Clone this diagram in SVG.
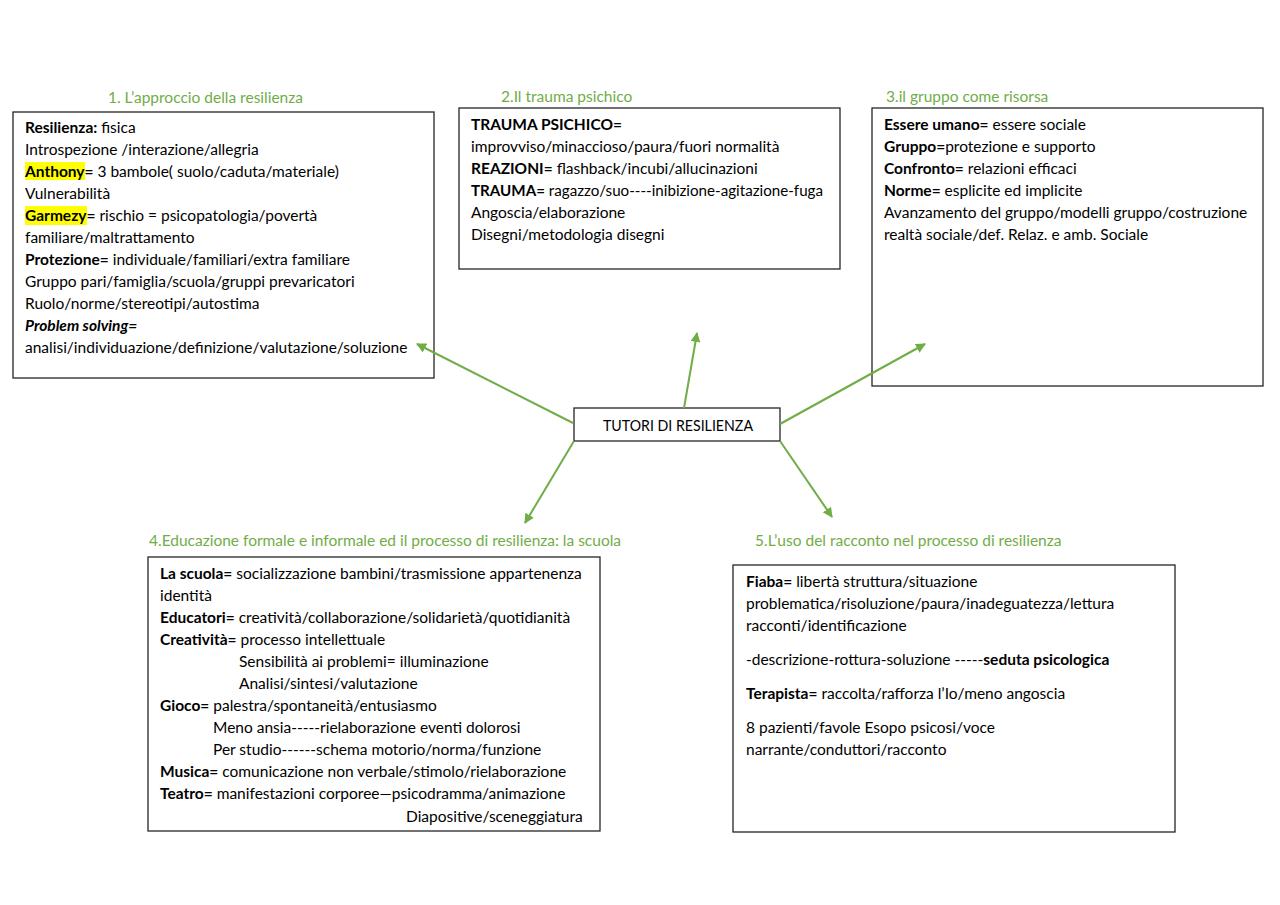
<svg xmlns="http://www.w3.org/2000/svg" width="1280" height="905" viewBox="0 0 1280 905">
<defs>
<marker id="ah" viewBox="0 0 10 10" refX="9" refY="5" markerWidth="5" markerHeight="5" orient="auto" markerUnits="strokeWidth">
<path d="M0,0 L10,5 L0,10 z" fill="#70AD47"/>
</marker>
<style>
text{font-family:Lato,"Open Sans","Liberation Sans",sans-serif;font-size:15.5px;fill:#000}
.t{fill:#70AD47}
.b{font-weight:bold}
.box{fill:#fff;stroke:#262626;stroke-width:1.3}
.hl{fill:#FFFF00}
.c{stroke:#70AD47;stroke-width:2;fill:none;marker-end:url(#ah)}
</style>
</defs>
<rect width="1280" height="905" fill="#fff"/>

<g id="node1">
<text class="t" x="108" y="103">1. L’approccio della resilienza</text>
<rect class="box" x="13" y="112" width="421" height="266"/>
<rect class="hl" x="25" y="162" width="60" height="18"/>
<rect class="hl" x="25" y="206" width="62" height="19"/>
<text x="25" y="133"><tspan class="b">Resilienza:</tspan> fisica</text>
<text x="25" y="155">Introspezione /interazione/allegria</text>
<text x="25" y="177"><tspan class="b">Anthony=</tspan> 3 bambole( suolo/caduta/materiale)</text>
<text x="25" y="199">Vulnerabilità</text>
<text x="25" y="221"><tspan class="b">Garmezy=</tspan> rischio = psicopatologia/povertà</text>
<text x="25" y="243">familiare/maltrattamento</text>
<text x="25" y="265"><tspan class="b">Protezione=</tspan> individuale/familiari/extra familiare</text>
<text x="25" y="287">Gruppo pari/famiglia/scuola/gruppi prevaricatori</text>
<text x="25" y="309">Ruolo/norme/stereotipi/autostima</text>
<text x="25" y="331" class="b" font-style="italic">Problem solving=</text>
<text x="25" y="353">analisi/individuazione/definizione/valutazione/soluzione</text>
</g>

<g id="node2">
<text class="t" x="501" y="102">2.Il trauma psichico</text>
<rect class="box" x="459" y="108" width="381" height="161"/>
<text x="471" y="130" class="b">TRAUMA PSICHICO=</text>
<text x="471" y="152">improvviso/minaccioso/paura/fuori normalità</text>
<text x="471" y="174"><tspan class="b">REAZIONI=</tspan> flashback/incubi/allucinazioni</text>
<text x="471" y="196" textLength="352" lengthAdjust="spacingAndGlyphs"><tspan class="b">TRAUMA=</tspan> ragazzo/suo----inibizione-agitazione-fuga</text>
<text x="471" y="218">Angoscia/elaborazione</text>
<text x="471" y="240">Disegni/metodologia disegni</text>
</g>

<g id="node3">
<text class="t" x="886" y="102">3.il gruppo come risorsa</text>
<rect class="box" x="872" y="108" width="391" height="278"/>
<text x="884" y="130"><tspan class="b">Essere umano=</tspan> essere sociale</text>
<text x="884" y="152"><tspan class="b">Gruppo=</tspan>protezione e supporto</text>
<text x="884" y="174"><tspan class="b">Confronto=</tspan> relazioni efficaci</text>
<text x="884" y="196"><tspan class="b">Norme=</tspan> esplicite ed implicite</text>
<text x="884" y="218">Avanzamento del gruppo/modelli gruppo/costruzione</text>
<text x="884" y="240">realtà sociale/def. Relaz. e amb. Sociale</text>
</g>

<g id="center">
<rect class="box" x="574" y="408" width="206" height="33"/>
<text x="603" y="431" textLength="150" lengthAdjust="spacingAndGlyphs">TUTORI DI RESILIENZA</text>
</g>

<g id="node4">
<text class="t" x="149" y="546">4.Educazione formale e informale ed il processo di resilienza: la scuola</text>
<rect class="box" x="148" y="557" width="452" height="274"/>
<text x="160" y="579"><tspan class="b">La scuola=</tspan> socializzazione bambini/trasmissione appartenenza</text>
<text x="160" y="601">identità</text>
<text x="160" y="623"><tspan class="b">Educatori=</tspan> creatività/collaborazione/solidarietà/quotidianità</text>
<text x="160" y="645"><tspan class="b">Creatività=</tspan> processo intellettuale</text>
<text x="239" y="667">Sensibilità ai problemi= illuminazione</text>
<text x="239" y="689">Analisi/sintesi/valutazione</text>
<text x="160" y="711"><tspan class="b">Gioco=</tspan> palestra/spontaneità/entusiasmo</text>
<text x="213" y="733">Meno ansia-----rielaborazione eventi dolorosi</text>
<text x="213" y="755">Per studio------schema motorio/norma/funzione</text>
<text x="160" y="777"><tspan class="b">Musica=</tspan> comunicazione non verbale/stimolo/rielaborazione</text>
<text x="160" y="799"><tspan class="b">Teatro=</tspan> manifestazioni corporee—psicodramma/animazione</text>
<text x="406" y="822">Diapositive/sceneggiatura</text>
</g>

<g id="node5">
<text class="t" x="755" y="546">5.L’uso del racconto nel processo di resilienza</text>
<rect class="box" x="733" y="565" width="442" height="267"/>
<text x="746" y="587"><tspan class="b">Fiaba=</tspan> libertà struttura/situazione</text>
<text x="746" y="609">problematica/risoluzione/paura/inadeguatezza/lettura</text>
<text x="746" y="631">racconti/identificazione</text>
<text x="746" y="665">-descrizione-rottura-soluzione -----<tspan class="b">seduta psicologica</tspan></text>
<text x="746" y="699"><tspan class="b">Terapista=</tspan> raccolta/rafforza l’Io/meno angoscia</text>
<text x="746" y="733">8 pazienti/favole Esopo psicosi/voce</text>
<text x="746" y="755">narrante/conduttori/racconto</text>
</g>

<g id="connectors">
<line class="c" x1="573" y1="423" x2="417" y2="344"/>
<line class="c" x1="684" y1="408" x2="697" y2="333"/>
<line class="c" x1="780" y1="424" x2="925" y2="344"/>
<line class="c" x1="574" y1="441" x2="525" y2="523"/>
<line class="c" x1="780" y1="441" x2="832" y2="517"/>
</g>
</svg>
